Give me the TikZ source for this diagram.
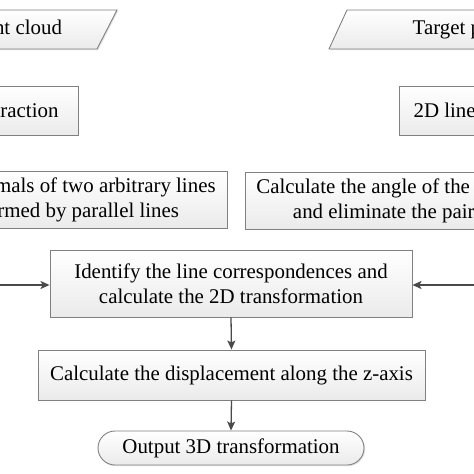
\documentclass[tikz,border=0pt]{standalone}
\usepackage{fontspec}
\setmainfont{Liberation Serif}
\usepackage{tikz}
\usetikzlibrary{positioning,calc,shadows,arrows.meta}
\definecolor{boxline}{HTML}{808080}
\definecolor{arrowline}{HTML}{4A4A4A}

\begin{document}
\begin{tikzpicture}[x=1pt, y=-1pt,
    every node/.style={font=\fontsize{20.9}{25}\selectfont},
    flowbox/.style={draw=boxline, line width=0.9pt, top color=white, bottom color=gray!16,
        drop shadow={shadow xshift=1.2pt, shadow yshift=-1.2pt, fill=gray!45, opacity=.5},
        inner sep=0pt, align=center},
    flowarrow/.style={draw=arrowline, line width=1.3pt, -{Stealth[length=9pt, width=8pt, inset=2pt]}}]
    \useasboundingbox (0, 0) rectangle (474, 474);
    \clip (0, 0) rectangle (474, 474);

    % Input point clouds
    \shade [flowbox] (-160, 10) -- (117, 10) -- (97, 49) -- (-180, 49) -- cycle;
    \node (srctext) at (-17, 29.5) {Source point cloud};
    \shade [flowbox] (347, 10) -- (640, 10) -- (620, 49) -- (329, 49) -- cycle;
    \node (tgttext) at (489, 29.5) {Target point cloud};

    % Line extraction
    \node [flowbox, minimum width=190, minimum height=49] (srcline) at (-17, 110.5) {2D line extraction};
    \node [flowbox, minimum width=180, minimum height=49] (tgtline) at (489, 110.5) {2D line extraction};

    % Normals and parallel pairs
    \node [flowbox, minimum width=490, minimum height=57] (srcangle) at (-18, 199.5)
        {Calculate the angle of the normals of two arbitrary lines\\and eliminate the pairs formed by parallel lines};
    \node [flowbox, minimum width=490, minimum height=57] (tgtangle) at (490, 200.5)
        {Calculate the angle of the normals of two arbitrary lines\\and eliminate the pairs formed by parallel lines};

    % Correspondences and transformation
    \node [flowbox, minimum width=362, minimum height=67] (ident) at (231, 283.5)
        {Identify the line correspondences and\\calculate the 2D transformation};
    \node [flowbox, minimum width=387, minimum height=50] (zdisp) at (231.5, 375)
        {Calculate the displacement along the z-axis};
    \node [flowbox, minimum width=266, minimum height=34, rounded corners=17pt] (output) at (231, 448)
        {Output 3D transformation};

    % Connectors
    \coordinate (srcin) at (-10, 285);
    \coordinate (tgtin) at (484, 285);
    \draw [flowarrow] (srcin) -- (srcin -| ident.west);
    \draw [flowarrow] (tgtin) -- (tgtin -| ident.east);
    \draw [flowarrow] (ident.south) -- (zdisp.north);
    \draw [flowarrow] (zdisp.south) -- (output.north);
\end{tikzpicture}
\end{document}
